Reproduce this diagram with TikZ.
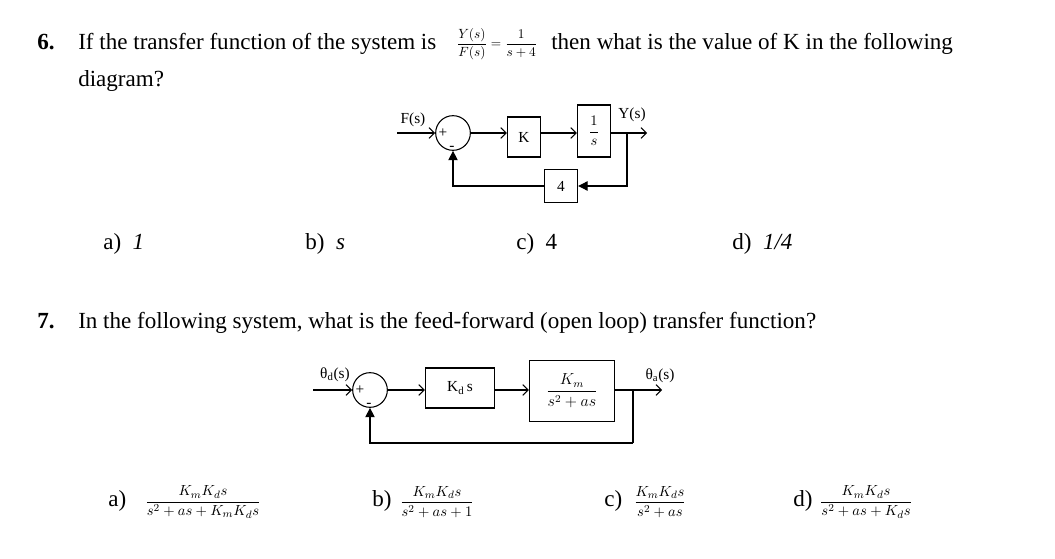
\documentclass[tikz,border=0pt]{standalone}
\usepackage{amsmath}
\usepackage{fontspec}
\setmainfont{Liberation Serif}
\usetikzlibrary{arrows.meta}
\begin{document}
\begin{tikzpicture}[x=0.75pt,y=-0.75pt,
  txt/.style={anchor=base west,inner sep=0,font=\fontsize{17.3}{20}\selectfont},
  lbl/.style={inner sep=0,font=\fontsize{11.5}{13}\selectfont},
  fr/.style={inner sep=0,font=\fontsize{11}{13}\selectfont},
  blk/.style={draw,thick,minimum width=#1},
  sum/.style={draw,thick,circle,minimum size=26pt,inner sep=0},
  ln/.style={thick},
  sa/.style={thick,-{Straight Barb[length=4pt]}},
  ba/.style={thick,-{Triangle[length=7pt,width=7pt]}}]
\useasboundingbox (0,0) rectangle (1055,559);
% Question 6
\node[txt] (q6n) at (37,50) {\textbf{6.}};
\node[txt] (q6a) at (78,50) {If the transfer function of the system is};
\node[fr,font=\fontsize{10}{12}\selectfont] (q6f) at (497,44) {$\dfrac{Y(s)}{F(s)}=\dfrac{1}{s+4}$};
\node[txt] (q6b) at (551,50) {then what is the value of K in the following};
\node[txt] (q6c) at (78,87) {diagram?};
% diagram 1
\coordinate (in1) at (397,133);
\node[sum] (s1) at (453,133) {};
\node[lbl] at (443,133) {+};
\node[lbl] at (452,148) {-};
\node[blk=25pt,minimum height=30pt,lbl] (K) at (524,137) {K};
\node[draw,thick,minimum width=25pt,minimum height=39pt,inner sep=0,fr] (I) at (594,131) {$\dfrac{1}{s}$};
\coordinate (out1) at (647,133);
\coordinate (br1) at (627,133);
\node[blk=25pt,minimum height=25pt,lbl] (F) at (561,186) {4};
\node[lbl,anchor=south] at (413,127) {F(s)};
\node[lbl,anchor=south] at (632,122) {Y(s)};
\draw[sa] (in1) -- (s1);
\draw[sa] (s1) -- (K.west|-s1);
\draw[sa] (K.east|-s1) -- (I.west|-s1);
\draw[sa] (I.east|-s1) -- (out1);
\draw[ba] (br1) |- (F.east);
\draw[ba] (F.west) -| (s1.south);
% answers 6
\node[txt] (a6a) at (103,250) {a)\ \ \textit{1}};
\node[txt] (a6b) at (305,250) {b)\ \ \textit{s}};
\node[txt] (a6c) at (516,250) {c)\ \ 4};
\node[txt] (a6d) at (732,250) {d)\ \ \textit{1/4}};
% Question 7
\node[txt] (q7n) at (37,328) {\textbf{7.}};
\node[txt] (q7a) at (78,328) {In the following system, what is the feed-forward (open loop) transfer function?};
\coordinate (in2) at (313,390);
\node[sum] (s2) at (370,390) {};
\node[lbl] at (360,390) {+};
\node[lbl] at (369,405) {-};
\node[draw,thick,minimum width=52pt,minimum height=30pt,lbl] (Kd) at (460,388) {K\textsubscript{d}\,s};
\node[draw,thick,minimum width=64pt,minimum height=46pt,inner sep=0,font=\fontsize{12}{14}\selectfont] (G) at (572,391) {$\dfrac{K_m}{s^2+as}$};
\coordinate (out2) at (662,390);
\coordinate (br2) at (633,390);
\coordinate (fb2) at (633,443);
\node[lbl,anchor=south] at (335,382) {θ\textsubscript{d}(s)};
\node[lbl,anchor=south] at (660,383) {θ\textsubscript{a}(s)};
\draw[sa] (in2) -- (s2);
\draw[sa] (s2) -- (Kd.west|-s2);
\draw[sa] (Kd.east|-s2) -- (G.west|-s2);
\draw[sa] (G.east|-s2) -- (out2);
\draw[ln] (br2) -- (fb2);
\draw[ba] (fb2) -| (s2.south);
% answers 7
\node[txt] (b7a) at (108,506) {a)};
\node[fr] (f7a) at (203,502) {$\dfrac{K_mK_ds}{s^2+as+K_mK_ds}$};
\node[txt] (b7b) at (372,506) {b)};
\node[fr] (f7b) at (437,502) {$\dfrac{K_mK_ds}{s^2+as+1}$};
\node[txt] (b7c) at (604,506) {c)};
\node[fr] (f7c) at (660,502) {$\dfrac{K_mK_ds}{s^2+as}$};
\node[txt] (b7d) at (793,506) {d)};
\node[fr] (f7d) at (866,502) {$\dfrac{K_mK_ds}{s^2+as+K_ds}$};
\end{tikzpicture}
\end{document}
